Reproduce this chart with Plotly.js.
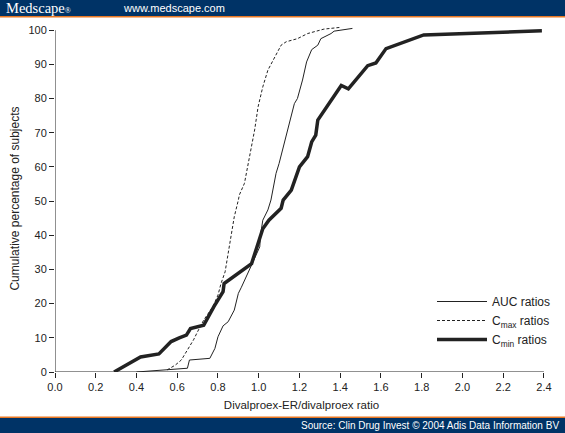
<!DOCTYPE html>
<html>
<head>
<meta charset="utf-8">
<script src="https://cdn.plot.ly/plotly-3.0.1.min.js"></script>
<style>html,body{margin:0;padding:0;background:#fff;}#chart{width:565px;height:433px;}</style>
</head>
<body>
<div id="chart"></div>
<script>
// Data
var aucX = [0.40, 0.55, 0.60, 0.65, 0.66, 0.76, 0.785, 0.80, 0.825, 0.85, 0.88, 0.90, 0.915, 0.94, 0.965, 1.005, 1.01, 1.02, 1.045, 1.06, 1.085, 1.10, 1.125, 1.15, 1.16, 1.175, 1.19, 1.215, 1.235, 1.26, 1.29, 1.305, 1.355, 1.37, 1.46];
var aucY = [0, 0.6, 0.9, 1.1, 3.5, 4, 6.9, 10.3, 13.5, 14.7, 18.1, 23, 24.8, 27.9, 31.3, 36.6, 40.5, 44.4, 47.4, 50.3, 58.1, 61, 66.8, 72.7, 75.6, 78.5, 80, 85.4, 90.7, 94.3, 95.6, 97.5, 99, 99.7, 100.5];

var cmaxX = [0.55, 0.59, 0.62, 0.645, 0.68, 0.70, 0.73, 0.775, 0.80, 0.815, 0.835, 0.85, 0.865, 0.88, 0.90, 0.905, 0.93, 0.955, 0.98, 0.997, 1.02, 1.045, 1.085, 1.11, 1.135, 1.19, 1.24, 1.32, 1.40];
var cmaxY = [0.6, 2, 3.5, 5.9, 9.4, 11.8, 15.2, 19.1, 22.5, 25.9, 29.3, 34.7, 40.5, 45.4, 50.3, 51.8, 55.2, 63, 70.8, 77.6, 83.4, 88.3, 92.7, 95.6, 96.6, 97.5, 99, 100.3, 100.8];

var cminX = [0.29, 0.42, 0.51, 0.57, 0.61, 0.645, 0.665, 0.73, 0.78, 0.825, 0.83, 0.965, 1.02, 1.04, 1.05, 1.11, 1.12, 1.16, 1.20, 1.24, 1.26, 1.28, 1.29, 1.405, 1.44, 1.535, 1.575, 1.625, 1.81, 2.39];
var cminY = [0, 4.4, 5.3, 8.9, 10, 10.8, 12.7, 13.7, 19.1, 23.5, 25.9, 31.7, 41.9, 43.4, 44.4, 47.9, 50.3, 53.2, 60, 63, 67.3, 69.3, 73.7, 83.8, 82.8, 89.6, 90.4, 94.6, 98.6, 99.8];

var seriesNames = ["AUC ratios", "C<sub>max</sub> ratios", "C<sub>min</sub> ratios"];
var xTickVals = [0, 0.2, 0.4, 0.6, 0.8, 1.0, 1.2, 1.4, 1.6, 1.8, 2.0, 2.2, 2.4];
var yTickVals = [0, 10, 20, 30, 40, 50, 60, 70, 80, 90, 100];

var W = 565, H = 433, L = 55, R = 17, T = 25, B = 61;
var pw = W - L - R, ph = H - T - B;
function px2x(p){ return (p - L) / pw; }
function px2y(p){ return (H - B - p) / ph; }

var ink = "#222";
var navy = "#003366", orange = "#e87722";
var font = "Liberation Sans, Arial, sans-serif";

var traces = [
  {x: aucX, y: aucY, name: seriesNames[0], type: "scatter", mode: "lines",
   line: {color: ink, width: 1}},
  {x: cmaxX, y: cmaxY, name: seriesNames[1], type: "scatter", mode: "lines",
   line: {color: ink, width: 1, dash: "3px,2px"}},
  {x: cminX, y: cminY, name: seriesNames[2], type: "scatter", mode: "lines",
   line: {color: ink, width: 3.5}}
];

var layout = {
  width: W, height: H,
  margin: {l: L, r: R, t: T, b: B, pad: 0, autoexpand: false},
  paper_bgcolor: "#fff", plot_bgcolor: "#fff",
  font: {family: font, size: 11, color: ink},
  showlegend: true,
  legend: {x: px2x(432), y: px2y(287), xanchor: "left", yanchor: "top",
           bgcolor: "rgba(0,0,0,0)", font: {family: font, size: 12, color: ink},
           itemwidth: 50, tracegroupgap: 0},
  xaxis: {range: [0, 2.42], tickvals: xTickVals, tickformat: ".1f",
          ticks: "outside", ticklen: 5, tickwidth: 1, tickcolor: ink,
          showline: false, showgrid: false, zeroline: false, automargin: false,
          tickfont: {family: font, size: 11, color: ink},
          title: {text: "Divalproex-ER/divalproex ratio", font: {family: font, size: 11.5, color: ink}, standoff: 8}},
  yaxis: {range: [0, 101.5], tickvals: yTickVals,
          ticks: "outside", ticklen: 5, tickwidth: 1, tickcolor: ink,
          showline: false, showgrid: false, zeroline: false, automargin: false,
          tickfont: {family: font, size: 11, color: ink},
          title: {text: "Cumulative percentage of subjects", font: {family: font, size: 12, color: ink}, standoff: 6}},
  shapes: [
    {type: "line", xref: "x", yref: "y", x0: 0, x1: 2.4, y0: 0, y1: 0, line: {color: ink, width: 1}},
    {type: "line", xref: "x", yref: "y", x0: 0, x1: 0, y0: 0, y1: 100, line: {color: ink, width: 1}},
    {type: "rect", xref: "paper", yref: "paper", x0: px2x(0), x1: px2x(W), y0: px2y(16), y1: px2y(0), fillcolor: navy, line: {width: 0}},
    {type: "rect", xref: "paper", yref: "paper", x0: px2x(0), x1: px2x(W), y0: px2y(17.6), y1: px2y(16), fillcolor: orange, line: {width: 0}},
    {type: "rect", xref: "paper", yref: "paper", x0: px2x(0), x1: px2x(W), y0: px2y(418), y1: px2y(416.4), fillcolor: orange, line: {width: 0}},
    {type: "rect", xref: "paper", yref: "paper", x0: px2x(0), x1: px2x(W), y0: px2y(H), y1: px2y(418), fillcolor: navy, line: {width: 0}}
  ],
  annotations: [
    {xref: "paper", yref: "paper", x: px2x(4), y: px2y(8.5), xanchor: "left", yanchor: "middle", showarrow: false,
     text: "Medscape<span style='font-size:8px'>®</span>", font: {family: "Liberation Serif, Times New Roman, serif", size: 14.5, color: "#fff"}},
    {xref: "paper", yref: "paper", x: px2x(121), y: px2y(8.5), xanchor: "left", yanchor: "middle", showarrow: false,
     text: "www.medscape.com", font: {family: font, size: 11, color: "#fff"}},
    {xref: "paper", yref: "paper", x: px2x(561), y: px2y(425.5), xanchor: "right", yanchor: "middle", showarrow: false,
     text: "Source: Clin Drug Invest © 2004 Adis Data Information BV", font: {family: font, size: 10, color: "#fff"}}
  ],
  hovermode: false
};

Plotly.newPlot("chart", traces, layout, {displayModeBar: false, staticPlot: true});
</script>
</body>
</html>
